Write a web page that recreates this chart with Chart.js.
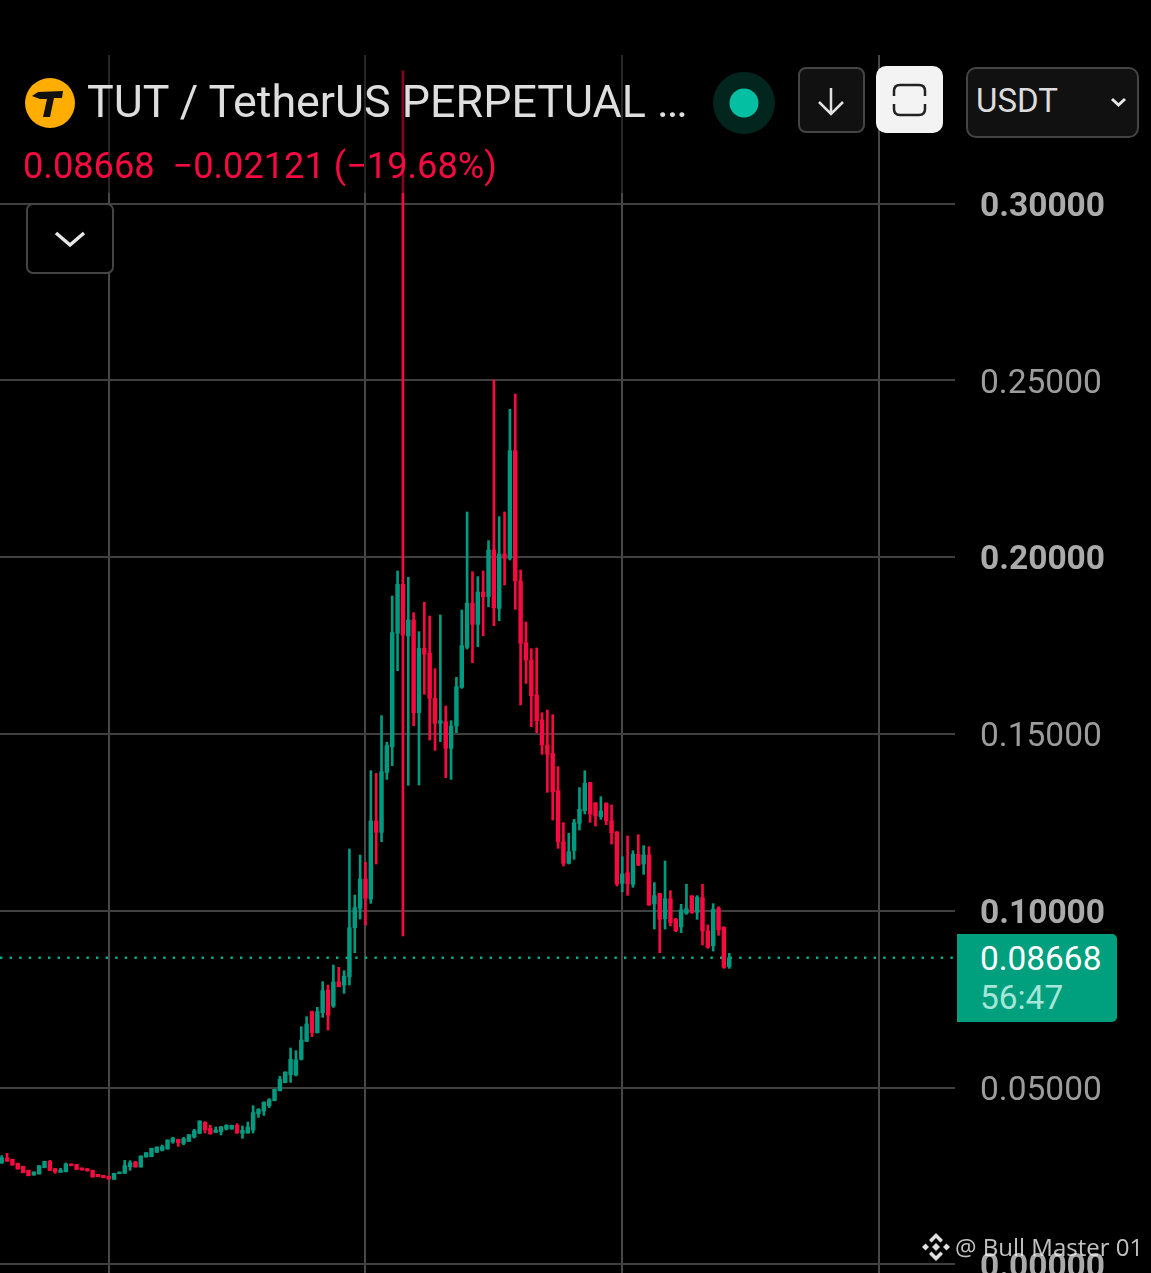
<!DOCTYPE html>
<html><head><meta charset="utf-8">
<style>
html,body{margin:0;padding:0;background:#000;width:1151px;height:1273px;overflow:hidden;font-family:Roboto,sans-serif}
#wrap{position:relative;width:1151px;height:1273px;overflow:hidden}
canvas{position:absolute;left:0;top:0}
.a{position:absolute;white-space:pre;box-sizing:border-box}
svg{position:absolute;overflow:visible}
</style></head><body>
<div id="wrap">
<canvas id="c" width="1151" height="1273"></canvas>
<div class="a" style="left:0;top:55px;width:700px;height:138px;background:rgba(0,0,0,.45)"></div>
<svg style="left:25px;top:78px" width="50" height="50" viewBox="0 0 50 50"><circle cx="25" cy="25" r="25" fill="#FFAD00"/><path d="M7 18 L13 14 L38 13 L37 20 L29 20 L25 39 L18 39 L22 21 L15 21Z" fill="#111"/></svg>
<div class="a" style="left:87px;top:75px;font-size:44.8px;line-height:54px;color:#dedede">TUT / TetherUS PERPETUAL <span style="letter-spacing:-2.2px">...</span></div>
<div class="a" style="left:23px;top:144px;font-size:36.2px;line-height:44px;color:#F60A40">0.08668  −0.02121 (−19.68%)</div>
<div class="a" style="left:26px;top:203px;width:88px;height:71px;background:#000;border:2px solid #444;border-radius:7px"></div>
<svg style="left:54px;top:231px" width="32" height="16"><path d="M2 2 L16 14 L30 2" fill="none" stroke="#e6e6e6" stroke-width="3.5"/></svg>
<svg style="left:713px;top:72px" width="62" height="62"><circle cx="31" cy="31" r="31" fill="#02261e"/><circle cx="31" cy="31" r="14.5" fill="#05BFA3"/></svg>
<div class="a" style="left:798px;top:67px;width:67px;height:66px;background:#111;border:2px solid #444;border-radius:8px"></div>
<svg style="left:815px;top:86px" width="32" height="32"><path d="M16 2 V28 M4 16 L16 28 L28 16" fill="none" stroke="#e2e2e2" stroke-width="2.5"/></svg>
<div class="a" style="left:876px;top:66px;width:67px;height:67px;background:#f3f3f3;border-radius:10px"></div>
<svg style="left:893px;top:84px" width="33" height="32"><path d="M1 12 V7 Q1 1 7 1 H26 Q32 1 32 7 V12 M1 20 V25 Q1 31 7 31 H26 Q32 31 32 25 V20" fill="none" stroke="#222" stroke-width="2.5"/></svg>
<div class="a" style="left:966px;top:67px;width:173px;height:71px;background:#111;border:2px solid #444;border-radius:10px"></div>
<div class="a" style="left:976px;top:81px;font-size:33px;line-height:40px;color:#dcdcdc">USDT</div>
<svg style="left:1110px;top:97px" width="17" height="11"><path d="M2 2 L8.5 8 L15 2" fill="none" stroke="#e6e6e6" stroke-width="3"/></svg>
<div class="a" style="left:957px;top:934px;width:160px;height:88px;background:#00A07F;border-radius:0 5px 5px 0"></div>
<div class="a" style="left:980px;top:939px;font-size:33.4px;line-height:40px;color:#fff">0.08668</div>
<div class="a" style="left:980px;top:978px;font-size:33.4px;line-height:40px;color:#A5E6D8">56:47</div>
<svg style="left:922px;top:1233px" width="28" height="28" viewBox="0 0 28 28"><g fill="#e0e0e0"><path d="M14 0 L21 7 L18.500 9.500 L14 5 L9.500 9.500 L7 7Z"/><path d="M14 28 L21 21 L18.500 18.500 L14 23 L9.500 18.500 L7 21Z"/><path d="M14 10 L18 14 L14 18 L10 14Z"/><path d="M0 14 L3.500 10.500 L7 14 L3.500 17.500Z"/><path d="M21 14 L24.500 10.500 L28 14 L24.500 17.500Z"/></g></svg>
<div class="a" style="left:955px;top:1231px;font-family:'Open Sans',sans-serif;font-size:24px;line-height:32px;color:rgba(235,235,235,.82)">@ Bull Master 01</div>
</div>
<script src="https://cdn.jsdelivr.net/npm/chart.js@4"></script>
<script>
const opens=[.02865,.03006,.02969,.02855,.02771,.02657,.02525,.02554,.02733,.02912,.02705,.02601,.02620,.02837,.02818,.02723,.02705,.02657,.02544,.02516,.02488,.02403,.02563,.02573,.02761,.02893,.02752,.03035,.03044,.03167,.03223,.03261,.03459,.03534,.03421,.03478,.03600,.03704,.04015,.03845,.03732,.03751,.03826,.03826,.03930,.03704,.03713,.03798,.04260,.04335,.04486,.04628,.04910,.05137,.05363,.05354,.05797,.06306,.07145,.06551,.07116,.07757,.07305,.07993,.07899,.08134,.09520,.10067,.10896,.10331,.12537,.12216,.13913,.14639,.17844,.19230,.17769,.18221,.15600,.17420,.17279,.16006,.15299,.15346,.14592,.15223,.16317,.17448,.18693,.18099,.19013,.18881,.20201,.18551,.20088,.19965,.23010,.19324,.17580,.17090,.16100,.15393,.14686,.14450,.13395,.11952,.11340,.11698,.12471,.12829,.13625,.13050,.12659,.13036,.12546,.12230,.10774,.11076,.10746,.11594,.11321,.11575,.10190,.10487,.09775,.10340,.09756,.09548,.09925,.10420,.09954,.10369,.09426,.09011,.10067,.09529,.08417];
const highs=[.03072,.03138,.02975,.02860,.02775,.02665,.02615,.02795,.02918,.02940,.02714,.02714,.02865,.02842,.02825,.02727,.02710,.02662,.02548,.02520,.02492,.02578,.02614,.02940,.02931,.02912,.03068,.03162,.03285,.03322,.03374,.03520,.03591,.03538,.03591,.03671,.03817,.04058,.04034,.03930,.03883,.03902,.03949,.03935,.03977,.03911,.04024,.04486,.04402,.04599,.04684,.04953,.05316,.05443,.06117,.06042,.06720,.07003,.07163,.07267,.07993,.07899,.08464,.08398,.08304,.11745,.10444,.11575,.11368,.13960,.13885,.15516,.14762,.18900,.19607,.33750,.19428,.18429,.17891,.18721,.18334,.16845,.18363,.15789,.15374,.16600,.18504,.21276,.19588,.19447,.19607,.20465,.25008,.21144,.21276,.24179,.24613,.19635,.18165,.17410,.17429,.15600,.15676,.15544,.14073,.12490,.12188,.12584,.13480,.13960,.13630,.13055,.13225,.13055,.12989,.12235,.11528,.12113,.11698,.12150,.11839,.11811,.10793,.10491,.11406,.10567,.09784,.10180,.10746,.10425,.10425,.10746,.09596,.10199,.10114,.09548,.08794];
const lows=[.02855,.02912,.02800,.02690,.02585,.02500,.02520,.02550,.02728,.02648,.02573,.02601,.02610,.02785,.02680,.02662,.02635,.02465,.02474,.02446,.02408,.02400,.02560,.02570,.02657,.02748,.02748,.03030,.03040,.03162,.03204,.03256,.03421,.03336,.03383,.03474,.03572,.03700,.03713,.03676,.03723,.03657,.03798,.03822,.03704,.03563,.03708,.03713,.04156,.04213,.04430,.04624,.04900,.05132,.05146,.05325,.05778,.06300,.06438,.06540,.06984,.06626,.07267,.07845,.07663,.07899,.08813,.09765,.09596,.10208,.11321,.11952,.13715,.14102,.16788,.09285,.13546,.15233,.13555,.16119,.14827,.14535,.14781,.13762,.13715,.15035,.16289,.17401,.17015,.17467,.17778,.18598,.18061,.18203,.19211,.19918,.18523,.15817,.16430,.15205,.15035,.14422,.13348,.12565,.11764,.11264,.11321,.11453,.12282,.12735,.12499,.12395,.12584,.12433,.11886,.10698,.10538,.10435,.10661,.11274,.11028,.10152,.09482,.08813,.09482,.09567,.09407,.09379,.09897,.09925,.09756,.09030,.08936,.08860,.09303,.08370,.08370];
const closes=[.03016,.02912,.02808,.02695,.02591,.02507,.02610,.02789,.02912,.02657,.02610,.02667,.02837,.02789,.02686,.02667,.02639,.02469,.02478,.02450,.02412,.02573,.02610,.02789,.02874,.02752,.03063,.03157,.03280,.03318,.03327,.03515,.03572,.03440,.03553,.03666,.03779,.04053,.03798,.03694,.03798,.03883,.03930,.03930,.03713,.03789,.03883,.04288,.04383,.04580,.04656,.04948,.05231,.05438,.05797,.05778,.06343,.06796,.06551,.07145,.07738,.07050,.07984,.07852,.08153,.09520,.10086,.10896,.10350,.12537,.12216,.13932,.14667,.17863,.19230,.17797,.18221,.15600,.17420,.17259,.16006,.15299,.15374,.14592,.15223,.16336,.17495,.18693,.18099,.19013,.18881,.20201,.18570,.20088,.19965,.23010,.19324,.17561,.17090,.16081,.15374,.14686,.14422,.13366,.11952,.11340,.11670,.12490,.12867,.13602,.12735,.12678,.12820,.12546,.12207,.10755,.11038,.10755,.11594,.11292,.11575,.10161,.10425,.09756,.10340,.09661,.09435,.10020,.10057,.09944,.10378,.09426,.08964,.10039,.09454,.08398,.08668];
const priceTicks=[0,0.05,0.10,0.15,0.20,0.25,0.30];
const boldTicks=[0,0.10,0.20,0.30];
const timeTicks=[20,68,116,164];
const lastPrice=0.08668;
const UP='#009A80',DOWN='#F60A40';
const colors=opens.map((o,i)=>closes[i]>=o?UP:DOWN);
const xMin=-0.318,xMax=178.2;
const isBold=c=>!!c.tick&&boldTicks.includes(c.tick.value);
new Chart(document.getElementById('c'),{
 data:{datasets:[
  {type:'line',data:[{x:xMin,y:lastPrice},{x:xMax,y:lastPrice}],borderColor:'#00AD8C',borderWidth:2.4,borderDash:[2.4,7.2],pointRadius:0,order:3},
  {type:'bar',data:opens.map((o,i)=>({x:i,y:[lows[i],highs[i]]})),backgroundColor:colors,barThickness:2,grouped:false,order:2},
  {type:'bar',data:opens.map((o,i)=>({x:i,y:[o,closes[i]]})),backgroundColor:colors,barThickness:3.8,grouped:false,order:1}
 ]},
 options:{responsive:false,animation:false,devicePixelRatio:1,
  layout:{padding:{top:55,left:0,right:0,bottom:0}},
  plugins:{legend:{display:false},tooltip:{enabled:false}},
  scales:{
   x:{type:'linear',offset:false,min:xMin,max:xMax,border:{display:false},
    grid:{offset:false,color:'#484848',lineWidth:2,drawTicks:false},
    ticks:{display:false},
    afterBuildTicks:s=>{s.ticks=timeTicks.map(v=>({value:v}));},
    afterFit:s=>{s.height=0;s.paddingLeft=0;s.paddingRight=0;}},
   y:{type:'linear',position:'right',min:-0.00246,max:0.342,border:{display:false},
    grid:{color:'#404040',lineWidth:2,drawTicks:false},
    afterBuildTicks:s=>{s.ticks=priceTicks.map(v=>({value:v}));},
    afterFit:s=>{s.width=196;s.paddingTop=0;s.paddingBottom=0;},
    ticks:{autoSkip:false,padding:25,labelOffset:4,
     callback:v=>v.toFixed(5),
     color:c=>isBold(c)?'#aaa':'#9c9c9c',
     font:c=>({family:'Roboto',size:33.5,weight:isBold(c)?'bold':'normal'})}}
  }}
});
</script>
</body></html>
